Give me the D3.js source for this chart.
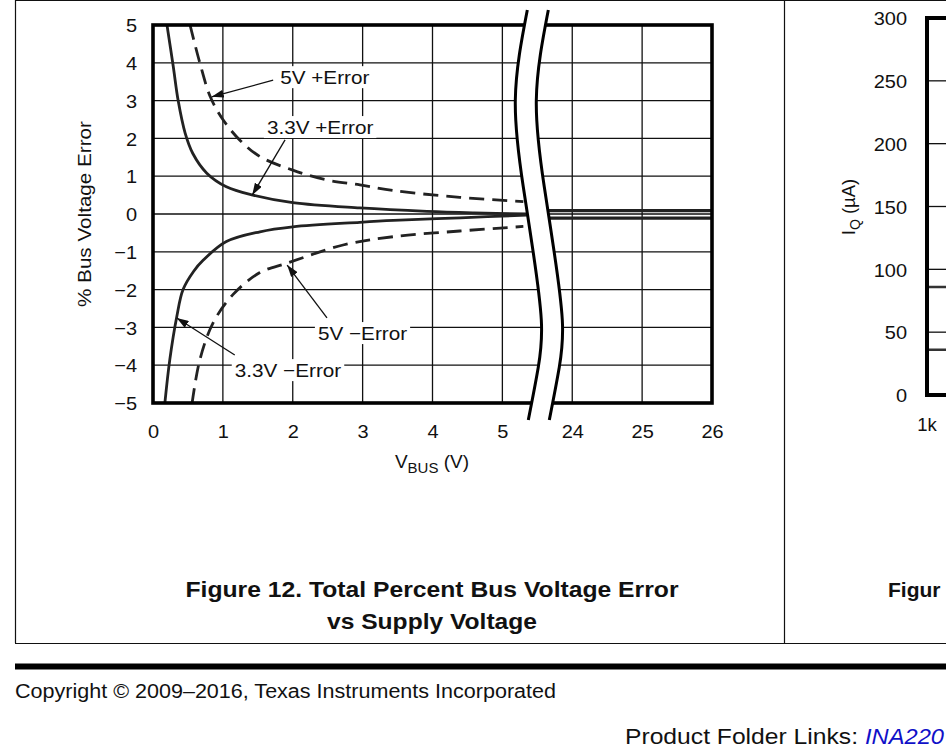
<!DOCTYPE html>
<html><head><meta charset="utf-8">
<script src="https://cdn.jsdelivr.net/npm/d3@7"></script>
<style>
body{margin:0;background:#fff}
svg{display:block}
text{font-family:"Liberation Sans",Arial,Helvetica,sans-serif;fill:#111}
</style>
</head><body>
<svg id="c" width="946" height="753"></svg>
<script>
// ---------- data ----------
const xTickValues = [0, 1, 2, 3, 4, 5, 24, 25, 26];
const yTickValues = [-5, -4, -3, -2, -1, 0, 1, 2, 3, 4, 5];

// 3.3V +Error (solid)
const v33PosX = [0.2, 0.29, 0.36, 0.46, 0.57, 0.77, 1.05, 1.43, 2.0, 2.96, 3.92, 4.6, 5.35];
const v33PosY = [5, 3.9, 3.0, 2.14, 1.6, 1.08, 0.72, 0.5, 0.3, 0.16, 0.07, 0.03, 0.0];
// 5V +Error (dashed)
const v5PosX = [0.53, 0.67, 0.82, 1.0, 1.24, 1.53, 2.0, 2.49, 2.96, 3.44, 4.39, 5.3];
const v5PosY = [5, 4.0, 3.1, 2.5, 1.96, 1.52, 1.16, 0.9, 0.77, 0.62, 0.44, 0.33];
// 3.3V -Error (solid)
const v33NegX = [0.17, 0.24, 0.34, 0.43, 0.58, 0.72, 1.05, 1.53, 2.0, 2.96, 3.44, 4.4, 5.35];
const v33NegY = [-5, -3.86, -2.72, -2.0, -1.52, -1.22, -0.73, -0.47, -0.34, -0.22, -0.17, -0.1, -0.03];
// 5V -Error (dashed)
const v5NegX = [0.56, 0.67, 0.86, 1.14, 1.53, 1.92, 2.72, 3.44, 4.39, 5.3];
const v5NegY = [-5, -3.86, -2.88, -2.14, -1.55, -1.3, -0.82, -0.6, -0.45, -0.33];
// right-hand section (24 V – 26 V)
const highX = [23.5, 26];
const high33Pos = [0.08, 0.08];
const high5Pos = [0.1, 0.1];
const high33Neg = [-0.1, -0.1];
const high5Neg = [-0.12, -0.12];

// annotations: label, text anchor (V, %), arrow start (V, %), arrow tip (V, %)
const annLabels = ["5V +Error", "3.3V +Error", "5V \u2212Error", "3.3V \u2212Error"];
const annTextX = [1.82, 1.63, 2.36, 1.17];
const annTextY = [3.62, 2.3, -3.15, -4.13];
const annFromX = [1.72, 1.89, 2.49, 1.17];
const annFromY = [3.54, 1.96, -2.75, -3.73];
const annToX = [0.84, 1.42, 1.92, 0.34];
const annToY = [3.1, 0.5, -1.35, -2.75];

// neighbouring (clipped) chart: IQ vs frequency
const iqTicks = [0, 50, 100, 150, 200, 250, 300];
const iqX = [1000, 1000000];
const iqHigh = [86, 86];
const iqLow = [36, 36];

// ---------- layout ----------
const svg = d3.select("#c");
const L = 153, R = 712, T = 25, B = 403;
const unit = (R - L) / 8;
const xb = L + 5.5 * unit;
const x = d3.scaleLinear().domain([0, 5.5, 23.5, 26]).range([L, xb, xb, R]);
const y = d3.scaleLinear().domain([-5, 5]).range([B, T]);

// page frame
const frame = svg.append("g").attr("stroke", "#111").attr("fill", "none");
frame.append("line").attr("x1", 15).attr("x2", 946).attr("y1", 0.5).attr("y2", 0.5).attr("stroke-width", 1.2);
frame.append("line").attr("x1", 15.5).attr("x2", 15.5).attr("y1", 0).attr("y2", 643).attr("stroke-width", 1.2);
frame.append("line").attr("x1", 784.5).attr("x2", 784.5).attr("y1", 0).attr("y2", 643).attr("stroke-width", 1.2);
frame.append("line").attr("x1", 15).attr("x2", 946).attr("y1", 643.5).attr("y2", 643.5).attr("stroke-width", 1.2);
frame.append("line").attr("x1", 15).attr("x2", 946).attr("y1", 666.5).attr("y2", 666.5).attr("stroke-width", 6).attr("stroke", "#000");

// clip
svg.append("defs").append("clipPath").attr("id", "plotClip")
  .append("rect").attr("x", L).attr("y", T).attr("width", R - L).attr("height", B - T);

// grid
const grid = svg.append("g").attr("stroke", "#111").attr("stroke-width", 1.3);
grid.selectAll("line.v").data(xTickValues.filter(d => d !== 0 && d !== 26)).join("line")
  .attr("x1", d => x(d)).attr("x2", d => x(d)).attr("y1", T).attr("y2", B);
grid.selectAll("line.h").data(yTickValues.filter(d => Math.abs(d) !== 5)).join("line")
  .attr("x1", L).attr("x2", R).attr("y1", d => y(d)).attr("y2", d => y(d));

// curves
const line = d3.line().x(d => x(d[0])).y(d => y(d[1])).curve(d3.curveMonotoneX);
const lineC = d3.line().x(d => x(d[0])).y(d => y(d[1])).curve(d3.curveCatmullRom.alpha(0.5));
const zip = (a, b) => a.map((v, i) => [v, b[i]]);
const curves = svg.append("g").attr("clip-path", "url(#plotClip)").attr("fill", "none")
  .attr("stroke", "#222").attr("stroke-width", 2.8).attr("stroke-linecap", "butt");
curves.append("path").attr("d", lineC(zip(v33PosX, v33PosY)));
curves.append("path").attr("d", lineC(zip(v5PosX, v5PosY))).attr("stroke-dasharray", "15,8");
curves.append("path").attr("d", lineC(zip(v33NegX, v33NegY)));
curves.append("path").attr("d", lineC(zip(v5NegX, v5NegY))).attr("stroke-dasharray", "15,8");
[high5Pos, high33Pos, high33Neg, high5Neg].forEach(s => {
  curves.append("path").attr("d", line(zip(highX, s))).attr("stroke-width", 2.6);
});

// plot frame
svg.append("rect").attr("x", L).attr("y", T).attr("width", R - L).attr("height", B - T)
  .attr("fill", "none").attr("stroke", "#000").attr("stroke-width", 3.6);

// axis break
const brkL = [[-10, 10], [-22, 100], [-14, 187], [-4, 253], [4, 320], [1, 367], [-9, 420]];
const gap = 21;
const bl = d3.line().x(d => xb + d[0]).y(d => d[1]).curve(d3.curveNatural);
const leftPts = brkL;
const rightPts = brkL.map(d => [d[0] + gap, d[1]]);
svg.append("path")
  .attr("d", bl(leftPts) + "L" + bl(rightPts.slice().reverse()).slice(1) + "Z")
  .attr("fill", "#fff").attr("stroke", "none");
svg.append("path").attr("d", bl(leftPts)).attr("fill", "none").attr("stroke", "#000").attr("stroke-width", 3);
svg.append("path").attr("d", bl(rightPts)).attr("fill", "none").attr("stroke", "#000").attr("stroke-width", 3);

// annotations
svg.append("defs").append("marker").attr("id", "arr").attr("viewBox", "0 0 12 8")
  .attr("refX", 12).attr("refY", 4).attr("markerWidth", 12).attr("markerHeight", 8)
  .attr("markerUnits", "userSpaceOnUse").attr("orient", "auto")
  .append("path").attr("d", "M0,0L12,4L0,8Z").attr("fill", "#111");
const ann = svg.append("g");
annLabels.forEach((lab, i) => {
  const t = ann.append("text").attr("x", x(annTextX[i])).attr("y", y(annTextY[i]))
    .attr("dy", "0.35em").attr("font-size", 19).text(lab);
  const w = t.node().getComputedTextLength() * 1.09;
  t.attr("textLength", w).attr("lengthAdjust", "spacingAndGlyphs");
  ann.insert("rect", "text").attr("x", x(annTextX[i]) - 3).attr("y", y(annTextY[i]) - 11)
    .attr("width", w + 6).attr("height", 22).attr("fill", "#fff");
  ann.append("line").attr("x1", x(annFromX[i])).attr("y1", y(annFromY[i]))
    .attr("x2", x(annToX[i])).attr("y2", y(annToY[i]))
    .attr("stroke", "#111").attr("stroke-width", 1.3).attr("marker-end", "url(#arr)");
});

// axes
const stretch = sel => sel.each(function () {
  const w = this.getComputedTextLength();
  d3.select(this).attr("textLength", w * 1.08).attr("lengthAdjust", "spacingAndGlyphs");
});
const xAxis = svg.append("g").attr("transform", `translate(0,${B})`)
  .call(d3.axisBottom(x).tickValues(xTickValues).tickFormat(d3.format("d")).tickSize(0));
xAxis.select(".domain").remove();
xAxis.selectAll("text").attr("y", 35).attr("dy", null).attr("font-size", 18.5).attr("fill", "#111")
  .attr("font-family", null).call(stretch);
const yAxis = svg.append("g").attr("transform", `translate(${L},0)`)
  .call(d3.axisLeft(y).tickValues(yTickValues).tickFormat(d3.format("d")).tickSize(0));
yAxis.select(".domain").remove();
yAxis.selectAll("text").attr("x", -16).attr("dy", "0.36em").attr("font-size", 18.5).attr("fill", "#111")
  .attr("font-family", null).call(stretch);

// axis titles
const yl = svg.append("text").attr("transform", `translate(91,${(T + B) / 2}) rotate(-90)`)
  .attr("text-anchor", "middle").attr("font-size", 18.5).text("% Bus Voltage Error");
yl.attr("textLength", 186).attr("lengthAdjust", "spacingAndGlyphs");
const xl = svg.append("text").attr("x", 432).attr("y", 468).attr("text-anchor", "middle").attr("font-size", 19);
xl.append("tspan").text("V");
xl.append("tspan").attr("font-size", 15).attr("dy", 5).text("BUS");
xl.append("tspan").attr("dy", -5).text(" (V)");

// caption
svg.append("text").attr("x", 432).attr("y", 597).attr("text-anchor", "middle").attr("font-weight", "bold")
  .attr("font-size", 22).attr("textLength", 493).attr("lengthAdjust", "spacingAndGlyphs")
  .text("Figure 12. Total Percent Bus Voltage Error");
svg.append("text").attr("x", 432).attr("y", 629).attr("text-anchor", "middle").attr("font-weight", "bold")
  .attr("font-size", 22).attr("textLength", 210).attr("lengthAdjust", "spacingAndGlyphs")
  .text("vs Supply Voltage");

// footer
svg.append("text").attr("x", 15).attr("y", 698).attr("font-size", 19.5)
  .attr("textLength", 541).attr("lengthAdjust", "spacingAndGlyphs")
  .text("Copyright \u00a9 2009\u20132016, Texas Instruments Incorporated");
svg.append("text").attr("x", 625).attr("y", 744).attr("font-size", 21.5)
  .attr("textLength", 233).attr("lengthAdjust", "spacingAndGlyphs")
  .text("Product Folder Links:");
svg.append("text").attr("x", 865).attr("y", 744).attr("font-size", 21.5).attr("font-style", "italic")
  .attr("textLength", 79).attr("lengthAdjust", "spacingAndGlyphs").style("fill", "#1010c8")
  .text("INA220");

// neighbouring chart (clipped at page edge)
const yR = d3.scaleLinear().domain([0, 300]).range([395, 18]);
const xR = d3.scaleLog().domain([1000, 1000000]).range([927, 1600]);
const gR = svg.append("g");
gR.selectAll("line.g").data(iqTicks.filter(d => d > 0 && d < 300)).join("line")
  .attr("x1", xR(1000)).attr("x2", 946).attr("y1", d => yR(d)).attr("y2", d => yR(d))
  .attr("stroke", "#111").attr("stroke-width", 1.3);
[iqHigh, iqLow].forEach(s => {
  gR.append("path").attr("d", d3.line().x((d, i) => xR(iqX[i])).y(d => yR(d))(s))
    .attr("fill", "none").attr("stroke", "#333").attr("stroke-width", 2.6);
});
gR.append("path").attr("d", `M946,${yR(300)}H${xR(1000)}V${yR(0)}H946`)
  .attr("fill", "none").attr("stroke", "#000").attr("stroke-width", 4);
const yAxR = gR.append("g").attr("transform", `translate(${xR(1000)},0)`)
  .call(d3.axisLeft(yR).tickValues(iqTicks).tickSize(0));
yAxR.select(".domain").remove();
yAxR.selectAll("text").attr("x", -20).attr("dy", "0.36em").attr("font-size", 18.5).attr("fill", "#111")
  .attr("font-family", null).call(stretch);
gR.append("text").attr("x", xR(1000)).attr("y", 431).attr("text-anchor", "middle").attr("font-size", 18.5).text("1k");
const iql = gR.append("text").attr("transform", `translate(855,207) rotate(-90)`)
  .attr("text-anchor", "middle").attr("font-size", 18.5);
iql.append("tspan").text("I");
iql.append("tspan").attr("font-size", 14).attr("dy", 5).text("Q");
iql.append("tspan").attr("dy", -5).text(" (\u00b5A)");
gR.append("text").attr("x", 888).attr("y", 597).attr("font-weight", "bold").attr("font-size", 21)
  .text("Figur");
</script>
</body></html>
